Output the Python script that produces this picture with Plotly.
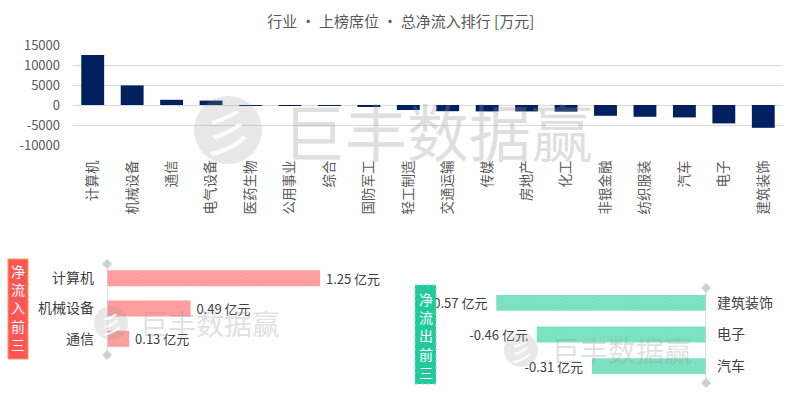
import plotly.graph_objects as go

# ---------------- data ----------------
industries = ["计算机", "机械设备", "通信", "电气设备", "医药生物", "公用事业", "综合", "国防军工",
              "轻工制造", "交通运输", "传媒", "房地产", "化工", "非银金融", "纺织服装", "汽车", "电子", "建筑装饰"]
net_inflow_wan = [12500, 4900, 1300, 1100, -200, -200, -250, -450,
                  -1250, -1550, -1600, -1600, -1650, -2700, -2950, -3100, -4600, -5700]
y_ticks = [15000, 10000, 5000, 0, -5000, -10000]

top_in_cats = ["计算机", "机械设备", "通信"]
top_in_vals = [1.25, 0.49, 0.13]
top_out_cats = ["建筑装饰", "电子", "汽车"]
top_out_vals = [-0.57, -0.46, -0.31]

FONT = "Noto Sans CJK SC"
GRID = "#D9D9D9"
TXT = "#595959"
NB = "\u00a0"


def py(p):
    return 1 - p / 400


fig = go.Figure()

# top chart
fig.add_trace(go.Bar(
    x=industries, y=net_inflow_wan, marker=dict(color="#002060", line=dict(width=0)),
    width=0.58, xaxis="x", yaxis="y", showlegend=False, hoverinfo="x+y"))

# bottom-left: net inflow top 3
fig.add_trace(go.Bar(
    x=top_in_vals, y=top_in_cats, orientation="h", width=0.53,
    marker=dict(color="#FF9E9E", line=dict(width=0),
                pattern=dict(shape="x", size=3, solidity=0.2, fgcolor="#FFC4C4", bgcolor="#FF9A9A")),
    texttemplate=NB + "%{x:.2f} 亿元", textposition="outside", cliponaxis=False, constraintext="none",
    textfont=dict(family=FONT, size=13, color="#404040"),
    xaxis="x2", yaxis="y2", showlegend=False))

# bottom-right: net outflow top 3
fig.add_trace(go.Bar(
    x=top_out_vals, y=top_out_cats, orientation="h", width=0.5,
    marker=dict(color="#7FE3C6", line=dict(width=0),
                pattern=dict(shape="x", size=3, solidity=0.2, fgcolor="#B0F0DC", bgcolor="#78E0C2")),
    texttemplate="%{x:.2f} 亿元" + NB + NB, textposition="outside", cliponaxis=False, constraintext="none",
    textfont=dict(family=FONT, size=13, color="#404040"),
    xaxis="x3", yaxis="y3", showlegend=False))

shapes = []
annotations = []

# watermarks (drawn above bars, semi-transparent)
WM = "rgba(150,150,150,0.30)"
for (cx, cy, r, tx, fs) in ((228, 130, 34, 438, 62), (111, 323, 17, 210, 28), (521, 350, 17, 622, 28)):
    shapes.append(dict(type="circle", xref="paper", yref="paper",
                       x0=(cx - r) / 800, x1=(cx + r) / 800,
                       y0=py(cy + r), y1=py(cy - r),
                       fillcolor="rgba(150,150,150,0.22)", line=dict(width=0), layer="above"))
    annotations.append(dict(text="彡", xref="paper", yref="paper", x=cx / 800, y=py(cy),
                            xanchor="center", yanchor="middle", showarrow=False,
                            font=dict(family=FONT, size=int(r * 1.5), color="rgba(255,255,255,0.9)")))
    annotations.append(dict(text="巨丰数据赢", xref="paper", yref="paper", x=tx / 800, y=py(cy),
                            xanchor="center", yanchor="middle", showarrow=False,
                            font=dict(family=FONT, size=fs, color=WM)))

# axis lines with diamond caps for bottom charts
shapes.append(dict(type="line", xref="x2", yref="paper", x0=0, x1=0,
                   y0=py(354), y1=py(263), line=dict(color="#D0D0D0", width=1.5)))
shapes.append(dict(type="line", xref="x3", yref="paper", x0=0, x1=0,
                   y0=py(382), y1=py(287), line=dict(color="#D0D0D0", width=1.5)))
for xr, ys in (("x2", (263, 354)), ("x3", (287, 382))):
    for yy in ys:
        annotations.append(dict(text="◆", xref=xr, yref="paper", x=0, y=py(yy),
                                xanchor="center", yanchor="middle",
                                showarrow=False, font=dict(size=10, color="#CFCFCF")))

# coloured label boxes
shapes.append(dict(type="rect", xref="paper", yref="paper", x0=8 / 800, x1=28 / 800,
                   y0=py(359), y1=py(259), fillcolor="#FF5555",
                   line=dict(color="#F5A050", width=1), layer="above"))
shapes.append(dict(type="rect", xref="paper", yref="paper", x0=415 / 800, x1=436 / 800,
                   y0=py(384), y1=py(285), fillcolor="#22C99A",
                   line=dict(color="#7FE3C6", width=1, dash="dot"), layer="above"))
annotations.append(dict(text="净<br>流<br>入<br>前<br>三", xref="paper", yref="paper",
                        x=18 / 800, y=py(307), xanchor="center", yanchor="middle", showarrow=False,
                        font=dict(family=FONT, size=14, color="white")))
annotations.append(dict(text="净<br>流<br>出<br>前<br>三", xref="paper", yref="paper",
                        x=425.5 / 800, y=py(335), xanchor="center", yanchor="middle", showarrow=False,
                        font=dict(family=FONT, size=14, color="white")))

fig.update_layout(
    width=800, height=400, margin=dict(l=0, r=0, t=0, b=0, autoexpand=False),
    paper_bgcolor="white", plot_bgcolor="white",
    font=dict(family=FONT, color=TXT),
    title=dict(text="行业 • 上榜席位 • 总净流入排行 [万元]", x=0.501, xanchor="center",
               y=py(22), yanchor="middle", font=dict(family=FONT, size=15, color=TXT)),
    xaxis=dict(domain=[73 / 800, 783 / 800], anchor="y", tickangle=-90, automargin=False,
               tickfont=dict(family=FONT, size=13.5, color=TXT), showgrid=False,
               ticks="outside", ticklen=9, tickcolor="rgba(0,0,0,0)", showline=False, zeroline=False),
    yaxis=dict(domain=[py(145), py(45)], anchor="x", range=[-10000, 15000], automargin=False,
               tickvals=y_ticks, ticktext=[str(v) for v in y_ticks],
               tickfont=dict(family=FONT, size=13, color=TXT), showgrid=True, gridcolor=GRID,
               gridwidth=1, zeroline=True, zerolinecolor=GRID, zerolinewidth=1, ticklabelstandoff=12),
    xaxis2=dict(domain=[107 / 800, 400 / 800], anchor="y2", range=[0, 293 / 170.4],
                visible=False, automargin=False),
    yaxis2=dict(domain=[py(354), py(263)], anchor="x2", autorange="reversed", automargin=False,
                tickfont=dict(family=FONT, size=14, color="#404040"), showgrid=False,
                showline=False, ticklabelstandoff=12),
    xaxis3=dict(domain=[440 / 800, 706 / 800], anchor="y3", range=[-266 / 368, 0],
                visible=False, automargin=False),
    yaxis3=dict(domain=[py(382), py(287)], anchor="x3", autorange="reversed", automargin=False,
                side="right", tickfont=dict(family=FONT, size=14, color="#404040"),
                showgrid=False, showline=False, ticklabelstandoff=10),
    shapes=shapes, annotations=annotations,
)

fig.write_html("out.html")
